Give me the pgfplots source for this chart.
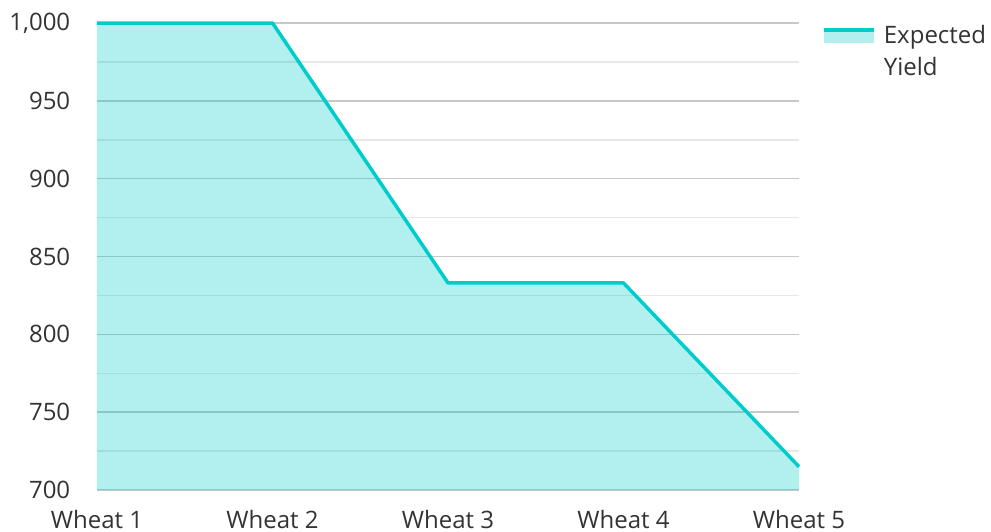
\documentclass[border=0pt]{standalone}
\usepackage{fontspec}
\setmainfont{Open Sans}
\usepackage{pgfplots}
\pgfplotsset{compat=1.18}
\definecolor{teal1}{RGB}{0,204,204}
\definecolor{majgrid}{RGB}{200,200,200}
\definecolor{mingrid}{RGB}{232,232,232}
\definecolor{txt}{RGB}{51,51,51}
\begin{document}
\begin{tikzpicture}[x=1pt,y=1pt]
\begin{axis}[
  at={(0,0)}, anchor=south west,
  scale only axis, width=702pt, height=467pt,
  xmin=0, xmax=4, ymin=700, ymax=1000,
  xtick={0,1,2,3,4},
  xticklabels={Wheat 1,Wheat 2,Wheat 3,Wheat 4,Wheat 5},
  ytick={700,750,...,1000},
  minor ytick={725,775,...,975},
  ymajorgrids, yminorgrids,
  major grid style={draw=majgrid, line width=1.5pt},
  minor grid style={draw=mingrid, line width=1.5pt},
  axis line style={draw=none},
  major tick style={draw=none}, minor tick style={draw=none},
  /pgf/number format/assume math mode=true,
  /pgf/number format/1000 sep={,},
  ticklabel style={font=\fontsize{24}{28}\selectfont, text=txt},
  xtick align=outside, ytick align=outside,
  xticklabel style={yshift=-12pt},
  yticklabel style={xshift=-19pt},
  legend style={draw=none, fill=none, at={(rel axis cs:1.033,0.996)}, anchor=north west,
    font=\fontsize{24}{32}\selectfont, text=txt, nodes={align=left, inner sep=0pt}, inner sep=0pt},
  legend cell align=left,
  clip=false,
]
\addplot[draw=none, fill=teal1, fill opacity=0.3, forget plot] coordinates {
  (0,1000) (1,1000) (2,833) (3,833) (4,715)
} \closedcycle;
\addplot[teal1, line width=3.5pt, line join=round,
  legend image code/.code={
    \path[fill=teal1, fill opacity=0.3, draw=none] (0pt,8pt) rectangle (50pt,23pt);
    \draw[teal1, line width=3.5pt] (0pt,21pt) -- (50pt,21pt);
  }] coordinates {
  (0,1000) (1,1000) (2,833) (3,833) (4,715)
};
\addlegendentry{\hspace{8pt}Expected\\\hspace{8pt}Yield}
\end{axis}
\pgfresetboundingbox
\path (-97,-41) rectangle (894,490);
\end{tikzpicture}
\end{document}
